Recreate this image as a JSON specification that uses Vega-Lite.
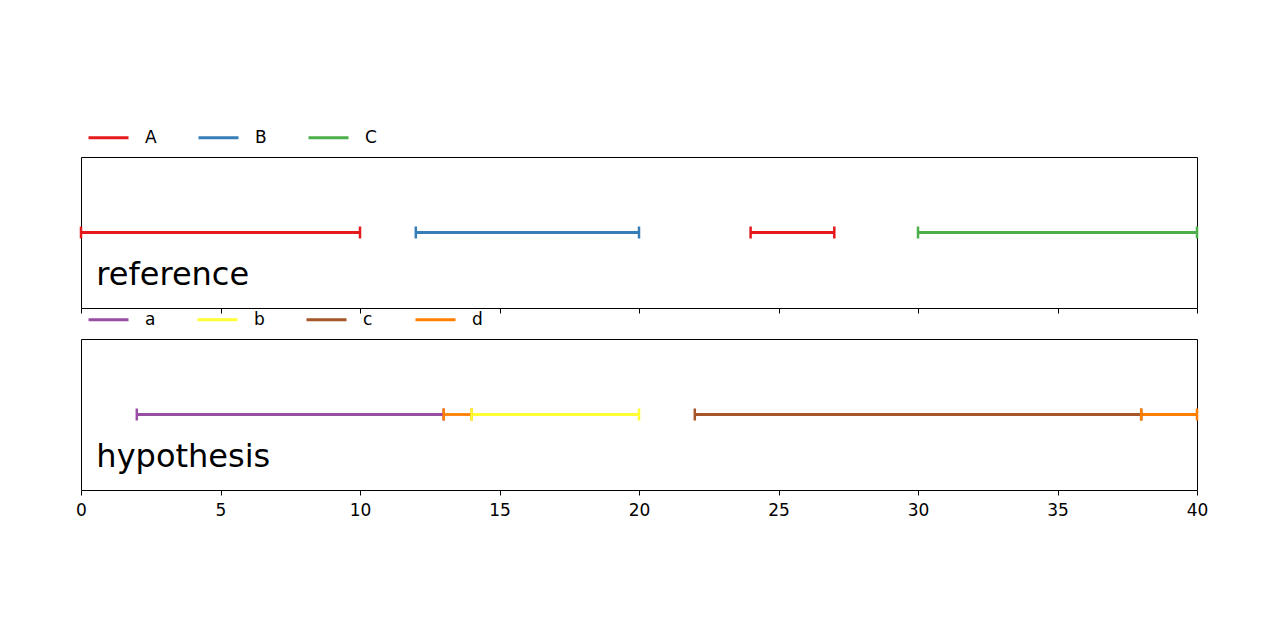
{
  "$schema": "https://vega.github.io/schema/vega-lite/v6.json",
  "description": "Reference vs hypothesis segments",
  "padding": {"left": 75, "top": 115, "right": 5, "bottom": 5},
  "bounds": "flush",
  "spacing": 31,
  "datasets": {
    "ref": [
      {"label": "A", "start": 0, "end": 10},
      {"label": "B", "start": 12, "end": 20},
      {"label": "A", "start": 24, "end": 27},
      {"label": "C", "start": 30, "end": 40}
    ],
    "hyp": [
      {"label": "a", "start": 2, "end": 13},
      {"label": "d", "start": 13, "end": 14},
      {"label": "b", "start": 14, "end": 20},
      {"label": "c", "start": 22, "end": 38},
      {"label": "d", "start": 38, "end": 40}
    ]
  },
  "vconcat": [
    {
      "width": 1116,
      "height": 151,
      "data": {"name": "ref"},
      "layer": [
        {
          "mark": {"type": "rule", "strokeWidth": 2.8, "opacity": 1},
          "encoding": {
            "x": {"field": "start", "type": "quantitative", "scale": {"domain": [0, 40], "nice": false, "zero": false},
                  "axis": {"labels": false, "values": [0, 5, 10, 15, 20, 25, 30, 35, 40]}},
            "x2": {"field": "end"},
            "color": {"field": "label", "type": "nominal", "scale": {"domain": ["A", "B", "C"], "range": ["#e41a1c", "#377eb8", "#4daf4a"]}}
          }
        },
        {
          "mark": {"type": "tick", "orient": "vertical", "thickness": 2.5, "size": 12, "opacity": 1},
          "encoding": {
            "x": {"field": "end", "type": "quantitative"},
            "color": {"field": "label", "type": "nominal"}
          }
        },
        {
          "mark": {"type": "tick", "orient": "vertical", "thickness": 2.5, "size": 12, "opacity": 1},
          "encoding": {
            "x": {"field": "start", "type": "quantitative"},
            "color": {"field": "label", "type": "nominal"}
          }
        },
        {
          "data": {"values": [{"name": "reference"}]},
          "mark": {"type": "text", "align": "left", "baseline": "alphabetic", "fontSize": 32, "dy": 52, "color": "black"},
          "encoding": {
            "x": {"datum": 0.55, "type": "quantitative"},
            "text": {"field": "name"}
          }
        }
      ]
    },
    {
      "width": 1116,
      "height": 151,
      "data": {"name": "hyp"},
      "layer": [
        {
          "mark": {"type": "rule", "strokeWidth": 2.8, "opacity": 1},
          "encoding": {
            "x": {"field": "start", "type": "quantitative", "scale": {"domain": [0, 40], "nice": false, "zero": false},
                  "axis": {"values": [0, 5, 10, 15, 20, 25, 30, 35, 40]}},
            "x2": {"field": "end"},
            "color": {"field": "label", "type": "nominal", "scale": {"domain": ["a", "b", "c", "d"], "range": ["#984ea3", "#ffff33", "#a65628", "#ff7f00"]}}
          }
        },
        {
          "mark": {"type": "tick", "orient": "vertical", "thickness": 2.5, "size": 12, "opacity": 1},
          "encoding": {
            "x": {"field": "end", "type": "quantitative"},
            "color": {"field": "label", "type": "nominal"}
          }
        },
        {
          "mark": {"type": "tick", "orient": "vertical", "thickness": 2.5, "size": 12, "opacity": 1},
          "encoding": {
            "x": {"field": "start", "type": "quantitative"},
            "color": {"field": "label", "type": "nominal"}
          }
        },
        {
          "data": {"values": [{"name": "hypothesis"}]},
          "mark": {"type": "text", "align": "left", "baseline": "alphabetic", "fontSize": 32, "dy": 52, "color": "black"},
          "encoding": {
            "x": {"datum": 0.55, "type": "quantitative"},
            "text": {"field": "name"}
          }
        }
      ]
    }
  ],
  "resolve": {"scale": {"color": "independent", "x": "independent"}, "legend": {"color": "independent"}},
  "config": {
    "font": "DejaVu Sans",
    "view": {"stroke": "black", "strokeWidth": 1},
    "axis": {"title": null, "grid": false, "domain": false, "tickSize": 5, "tickColor": "black", "tickWidth": 1,
             "labelColor": "black", "labelFontSize": 17, "labelPadding": 7, "labelFlush": false, "labelFont": "DejaVu Sans"},
    "legend": {"orient": "none", "legendX": 6, "legendY": -41, "direction": "horizontal", "title": null,
               "symbolType": "stroke", "symbolSize": 1600, "symbolStrokeWidth": 2.8, "symbolOpacity": 1, "labelFontSize": 17,
               "labelColor": "black", "labelOffset": 15, "columnPadding": 35, "gridAlign": "all", "padding": 0}
  }
}
